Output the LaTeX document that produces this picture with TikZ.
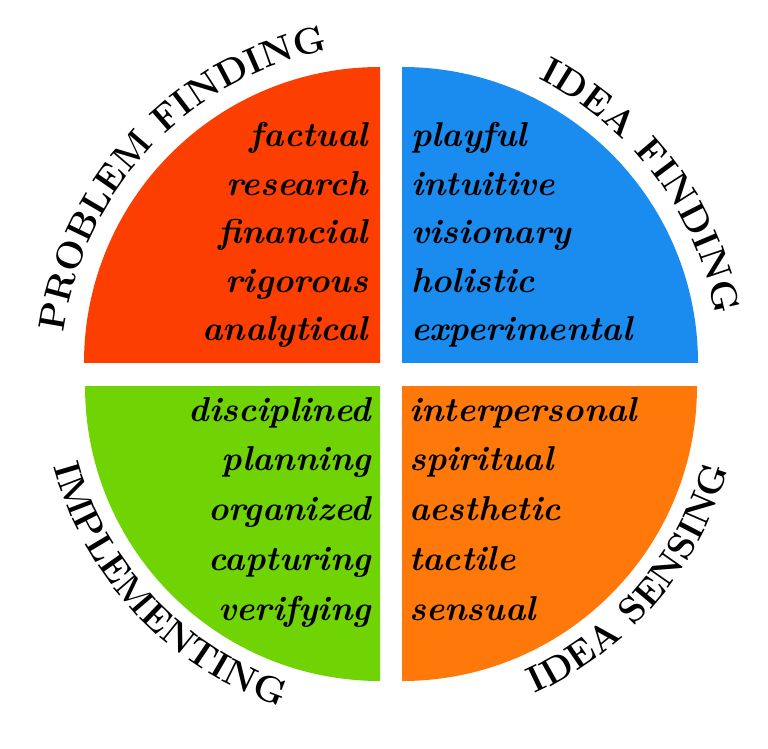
\documentclass[tikz,border=0pt]{standalone}
\usepackage{fontspec}
\usetikzlibrary{decorations.text}
\definecolor{qred}{HTML}{FC3F00}
\definecolor{qblue}{HTML}{1A8CF0}
\definecolor{qgreen}{HTML}{70D404}
\definecolor{qorange}{HTML}{FF780A}
\newcommand{\labfont}{\fontsize{37}{40}\selectfont\bfseries}
\tikzset{
  word/.style={inner sep=0pt, font=\fontsize{34.5}{40}\selectfont\bfseries\itshape, text=black},
  wl/.style={word, anchor=base east},
  wr/.style={word, anchor=base west},
}
\begin{document}
\begin{tikzpicture}[x=1pt,y=1pt]
\useasboundingbox (0,0) rectangle (768,748);
\fill[white] (0,0) rectangle (768,748);
\coordinate (C) at (391,373.5);
% quadrants
\fill[qred] (380,385) -- (84,385) arc[start angle=180, end angle=90, radius=296] -- cycle;
\fill[qblue] (402,385) -- (402,681) arc[start angle=90, end angle=0, radius=296] -- cycle;
\fill[qgreen] (380,362) -- (85,362) arc[start angle=180, end angle=270, radius=295] -- cycle;
\fill[qorange] (402,362) -- (402,67) arc[start angle=270, end angle=360, radius=295] -- cycle;
% words top-left
\node[wl] (w1) at (368,601) {factual};
\node[wl] (w2) at (368,552.6) {research};
\node[wl] (w3) at (368,504.2) {financial};
\node[wl] (w4) at (368,455.8) {rigorous};
\node[wl] (w5) at (368,407.4) {analytical};
% words top-right
\node[wr] (w6) at (411,601) {playful};
\node[wr] (w7) at (411,552.6) {intuitive};
\node[wr] (w8) at (411,504.2) {visionary};
\node[wr] (w9) at (411,455.8) {holistic};
\node[wr] (w10) at (411,407.4) {experimental};
% words bottom-left
\node[wl] (w11) at (371,327) {disciplined};
\node[wl] (w12) at (371,277.2) {planning};
\node[wl] (w13) at (371,227.4) {organized};
\node[wl] (w14) at (371,177.6) {capturing};
\node[wl] (w15) at (371,127.8) {verifying};
% words bottom-right
\node[wr] (w16) at (409,327) {interpersonal};
\node[wr] (w17) at (409,277.2) {spiritual};
\node[wr] (w18) at (409,227.4) {aesthetic};
\node[wr] (w19) at (409,177.6) {tactile};
\node[wr] (w20) at (409,127.8) {sensual};
% curved labels
\path[decorate, decoration={text along path, text align=center,
  text={|\labfont|PROBLEM FINDING}}]
  ([shift={(206.8:330)}]C) arc[start angle=206.8, end angle=66.8, radius=330];
\path[decorate, decoration={text along path, text align=center,
  text={|\labfont|IDEA FINDING}}]
  ([shift={(96.9:330)}]C) arc[start angle=96.9, end angle=-23.1, radius=330];
\path[decorate, decoration={text along path, text align=center,
  text={|\labfont|IMPLEMENTING}}]
  ([shift={(163.4:350)}]C) arc[start angle=163.4, end angle=283.4, radius=350];
\path[decorate, decoration={text along path, text align=center,
  text={|\labfont|IDEA SENSING}}]
  ([shift={(259.4:350)}]C) arc[start angle=259.4, end angle=379.4, radius=350];
\end{tikzpicture}
\end{document}
